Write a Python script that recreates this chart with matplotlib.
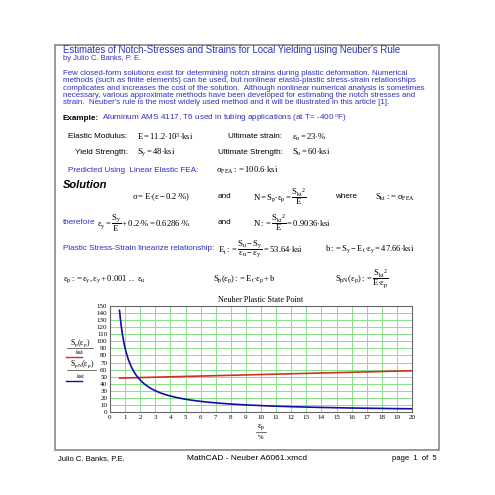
import numpy as np
import matplotlib
matplotlib.use("Agg")
import matplotlib.pyplot as plt
from matplotlib.patches import Rectangle

plt.rcParams['font.family'] = ['Liberation Sans', 'DejaVu Sans']
plt.rcParams['mathtext.fontset'] = 'custom'
plt.rcParams['mathtext.rm'] = 'Liberation Serif'
plt.rcParams['mathtext.it'] = 'Liberation Serif:italic'

# document parameters
E = 11.2e3      # ksi
Sy = 48.0       # ksi
Su = 60.0       # ksi
eps_u = 0.23
S_fea = 100.6   # ksi
eps_y = Sy / E + 0.002
Et = (Su - Sy) / (eps_u - eps_y)
b = Sy - Et * eps_y
eps_p = np.arange(eps_y, eps_u, 0.001)
Sp = Et * eps_p + b
SpN = S_fea**2 / (E * eps_p)
xticks = list(range(0, 21))
yticks = list(range(0, 151, 10))

W = H = 495
fig = plt.figure(figsize=(4.95, 4.95), dpi=100)
BLUE = '#3030c0'
M = 6.2

def T(x, y, s, size=5.9, color='black', **kw):
    fig.text(x / W, 1 - y / H, s, fontsize=size, color=color, va='center', **kw)

fig.patches.append(Rectangle((55 / W, 1 - 450 / H), 384 / W, 405 / H, transform=fig.transFigure,
                             fill=False, edgecolor='#888888', lw=1.2))

T(63, 50, "Estimates of Notch-Stresses and Strains for Local Yielding using Neuber's Rule", 6.9, BLUE)
T(63, 58, "by Julio C. Banks, P. E.", 5.4, BLUE)
para = ["Few closed-form solutions exist for determining notch strains during plastic deformation. Numerical",
        "methods (such as finite elements) can be used, but nonlinear elasto-plastic stress-strain relationships",
        "complicates and increases the cost of the solution.  Although nonlinear numerical analysis is sometimes",
        "necessary, various approximate methods have been developed for estimating the notch stresses and",
        "strain.  Neuber's rule is the most widely used method and it will be illustrated in this article [1]."]
for i, ln in enumerate(para):
    T(63, 73 + i * 7.5, ln, 5.7, BLUE)
T(63, 119, "Example:", 5.9, 'black', fontweight='bold')
T(102, 119, "Aluminum AMS 4117, T6 used in tubing applications (at T= -400 $^o$F)", 5.9, BLUE)

T(68, 137, "Elastic Modulus:", 5.9)
T(137, 137, r"$\mathrm{E = 11.2{\cdot}10^3{\cdot}ksi}$", M)
T(228, 137, "Ultimate strain:", 5.9)
T(292, 137, r"$\mathrm{\varepsilon_u = 23{\cdot}\%}$", M)
T(75, 152, "Yield Strength:", 5.9)
T(137, 152, r"$\mathrm{S_y = 48{\cdot}ksi}$", M)
T(218, 152, "Ultimate Strength:", 5.9)
T(292, 152, r"$\mathrm{S_u = 60{\cdot}ksi}$", M)
T(68, 170, "Predicted Using  Linear Elastic FEA:", 5.9, BLUE)
T(216, 170, r"$\mathrm{\sigma_{FEA} := 100.6{\cdot}ksi}$", M)

T(63, 185, "Solution", 8, fontweight='bold', fontstyle='italic')
T(132, 197, r"$\mathrm{\sigma = E{\cdot}(\varepsilon - 0.2{\cdot}\%)}$", M)
T(218, 197, "and", 5.9)
T(253, 197, r"$\mathrm{N = S_p{\cdot}\varepsilon_p = \dfrac{{S_{kt}}^2}{E}}$", M)
T(335, 197, "where", 5.9)
T(375, 197, r"$\mathrm{S_{kt} := \sigma_{FEA}}$", M)
T(63, 223, "therefore", 5.9, BLUE)
T(97, 223, r"$\mathrm{\varepsilon_y = \dfrac{S_y}{E} + 0.2{\cdot}\% = 0.6286{\cdot}\%}$", M)
T(218, 223, "and", 5.9)
T(253, 223, r"$\mathrm{N := \dfrac{{S_{kt}}^2}{E} = 0.9036{\cdot}ksi}$", M)
T(63, 249, "Plastic Stress-Strain linearize relationship:", 5.9, BLUE)
T(218, 249, r"$\mathrm{E_t := \dfrac{S_u - S_y}{\varepsilon_u - \varepsilon_y} = 53.64{\cdot}ksi}$", M)
T(325, 249, r"$\mathrm{b := S_y - E_t{\cdot}\varepsilon_y = 47.66{\cdot}ksi}$", M)
T(63, 279, r"$\mathrm{\varepsilon_p := \varepsilon_y, \varepsilon_y + 0.001\ ..\ \varepsilon_u}$", M)
T(213, 279, r"$\mathrm{S_p(\varepsilon_p) := E_t{\cdot}\varepsilon_p + b}$", M)
T(335, 279, r"$\mathrm{S_{pN}(\varepsilon_p) := \dfrac{{S_{kt}}^2}{E{\cdot}\varepsilon_p}}$", M)

ax = fig.add_axes([110 / W, 1 - 412 / H, 302 / W, 106 / H])
ax.plot(eps_p * 100, Sp, color='#d03020', lw=1.2)
ax.plot(eps_p * 100, SpN, color='#1010a0', lw=1.2)
ax.set_xlim(0, 20)
ax.set_ylim(0, 150)
ax.set_xticks(xticks)
ax.set_yticks(yticks)
ax.grid(True, color='#88e088', lw=0.7)
ax.set_axisbelow(True)
ax.tick_params(length=0, labelsize=5, pad=2)
for lab in ax.get_xticklabels() + ax.get_yticklabels():
    lab.set_fontfamily('Liberation Serif')
for s in ax.spines.values():
    s.set_color('#666666'); s.set_linewidth(0.8)

T(261, 300, "Neuber Plastic State Point", 5.9, ha='center', family='Liberation Serif')
T(80, 343, r"$\mathrm{S_p(\varepsilon_p)}$", 5.6, ha='center')
fig.add_artist(plt.Line2D([67 / W, 93 / W], [1 - 348 / H] * 2, color='black', lw=0.4))
T(80, 352, "ksi", 4.8, ha='center', family='Liberation Serif')
fig.add_artist(plt.Line2D([66 / W, 82 / W], [1 - 357 / H] * 2, color='#d03020', lw=1))
T(82, 364, r"$\mathrm{S_{pN}(\varepsilon_p)}$", 5.6, ha='center')
fig.add_artist(plt.Line2D([67 / W, 96 / W], [1 - 370 / H] * 2, color='black', lw=0.4))
T(81, 376, "ksi", 4.8, ha='center', family='Liberation Serif')
fig.add_artist(plt.Line2D([66 / W, 82 / W], [1 - 381 / H] * 2, color='#1010a0', lw=1))
T(261, 427, r"$\mathrm{\varepsilon_p}$", 6, ha='center')
fig.add_artist(plt.Line2D([256 / W, 266 / W], [1 - 432 / H] * 2, color='black', lw=0.4))
T(261, 437, r"$\mathrm{\%}$", 4.8, ha='center')

T(58, 459, "Julio C. Banks, P.E.", 5.5)
T(247, 459, "MathCAD - Neuber A6061.xmcd", 6, ha='center')
T(437, 459, "page  1  of  5", 5.5, ha='right')

fig.savefig('out.png', dpi=100, facecolor='white')
